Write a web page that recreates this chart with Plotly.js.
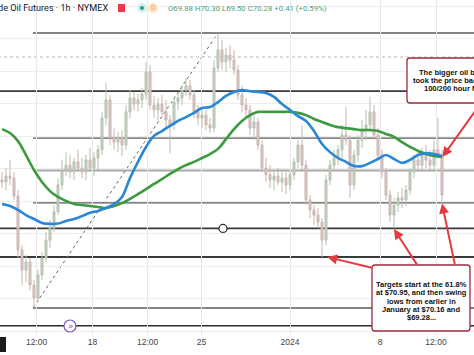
<!DOCTYPE html>
<html><head><meta charset="utf-8">
<script src="https://cdn.plot.ly/plotly-3.0.1.min.js"></script>
<style>html,body{margin:0;padding:0;background:#fff;overflow:hidden}#chart{width:474px;height:355px}</style>
</head><body><div id="chart"></div>
<script>
// ---- data (hourly bars, grouped 4 px per candle) ----
const barIndex = [0,1,2,3,4,5,6,7,8,9,10,11,12,13,14,15,16,17,18,19,20,21,22,23,24,25,26,27,28,29,30,31,32,33,34,35,36,37,38,39,40,41,42,43,44,45,46,47,48,49,50,51,52,53,54,55,56,57,58,59,60,61,62,63,64,65,66,67,68,69,70,71,72,73,74,75,76,77,78,79,80,81,82,83,84,85,86,87,88,89,90,91,92,93,94,95,96,97,98,99,100,101,102,103,104,105,106,107,108,109,110];
const opens = [71.65,71.59,71.77,71.71,71.16,69.50,68.88,69.13,68.42,68.02,
68.73,69.25,69.80,70.17,70.67,71.50,71.96,72.11,71.90,72.21,
72.02,71.90,72.27,72.02,72.33,72.58,73.56,74.12,72.95,72.82,
72.95,72.73,73.75,74.18,73.99,74.12,74.30,74.98,73.96,73.81,
73.99,73.75,73.50,73.35,74.05,74.18,74.42,74.55,74.27,73.75,
73.56,73.65,73.35,73.25,75.10,75.66,75.29,75.50,75.35,75.04,
74.27,73.96,73.81,73.25,73.44,72.73,72.02,71.81,71.65,71.77,
71.59,71.71,71.50,71.81,72.21,72.73,72.11,71.04,70.73,70.57,
70.36,69.80,71.65,72.11,72.33,72.58,73.04,72.88,71.50,72.42,
72.88,73.19,73.35,73.75,73.04,72.42,71.90,71.19,70.57,70.88,
71.10,71.04,71.34,71.90,72.27,72.11,72.42,72.27,72.11,72.58,
72.42];
const highs = [71.90,72.02,72.27,71.90,71.34,69.65,69.34,69.25,68.57,68.88,
69.43,70.05,70.42,70.88,71.71,72.27,72.51,72.42,72.33,72.58,
72.33,72.42,72.64,72.51,72.73,73.75,74.64,74.27,73.25,73.13,
73.19,73.96,74.42,74.36,74.30,74.49,75.29,75.20,74.24,74.18,
74.27,74.12,73.65,74.18,74.36,74.58,74.79,74.73,74.42,73.96,
73.87,73.81,73.56,75.35,76.18,75.96,75.72,75.81,75.66,75.20,
74.58,74.18,73.96,73.65,73.56,72.88,72.33,72.11,71.96,72.02,
71.90,71.96,71.90,72.33,72.88,73.35,72.27,71.19,70.88,70.79,
70.48,71.81,72.27,72.58,72.73,73.35,73.90,73.04,72.58,73.04,
73.50,73.81,74.21,73.96,73.25,72.58,72.02,71.34,71.10,71.28,
71.41,71.50,72.02,72.42,72.58,72.64,72.73,72.58,72.88,73.56,
72.58];
const lows = [71.41,71.34,71.50,71.04,69.25,68.42,68.51,68.26,67.71,67.90,
68.57,69.13,69.56,70.05,70.57,71.34,71.77,71.71,71.65,71.96,
71.71,71.65,71.90,71.77,71.96,72.42,73.35,72.73,72.58,72.51,
72.39,72.58,73.56,73.81,73.75,73.87,74.12,73.81,73.56,73.50,
73.65,73.25,72.48,73.19,73.81,73.96,74.24,74.12,73.56,73.35,
73.25,73.19,73.10,73.13,74.98,75.04,74.98,75.10,74.89,74.12,
73.75,73.56,73.04,72.88,72.58,71.90,71.59,71.41,71.34,71.50,
71.28,71.22,71.34,71.65,72.02,71.96,70.88,70.48,70.27,70.17,
69.28,69.65,71.50,71.96,72.11,72.33,72.73,71.10,71.34,72.21,
72.64,72.88,73.13,72.88,72.27,71.71,71.04,70.36,70.17,70.67,
70.79,70.85,71.19,71.71,71.90,71.96,72.02,71.90,71.90,72.33,
70.94];
const closes = [71.59,71.77,71.71,71.16,69.50,68.88,69.13,68.42,68.02,68.73,
69.25,69.80,70.17,70.67,71.50,71.96,72.11,71.90,72.21,72.02,
71.90,72.27,72.02,72.33,72.58,73.56,74.12,72.95,72.82,72.95,
72.73,73.75,74.18,73.99,74.12,74.30,74.98,73.96,73.81,73.99,
73.75,73.50,73.35,74.05,74.18,74.42,74.55,74.27,73.75,73.56,
73.65,73.35,73.25,75.10,75.66,75.29,75.50,75.35,75.04,74.27,
73.96,73.81,73.25,73.44,72.73,72.02,71.81,71.65,71.77,71.59,
71.71,71.50,71.81,72.21,72.73,72.11,71.04,70.73,70.57,70.36,
69.80,71.65,72.11,72.33,72.58,73.04,72.88,71.50,72.42,72.88,
73.19,73.35,73.75,73.04,72.42,71.90,71.19,70.57,70.88,71.10,
71.04,71.34,71.90,72.27,72.11,72.42,72.27,72.11,72.58,72.42,
71.19];
const maIndex = [0,2,4,6,8,10,12,14,16,18,20,22,24,26,28,30,32,34,36,38,40,42,44,46,48,50,52,54,56,58,60,62,64,66,68,70,72,74,76,78,80,82,84,86,88,90,92,94,96,98,100,102,104,106,108,110];
const ma100 = [70.91,70.85,70.73,70.57,70.45,70.33,70.30,70.31,70.39,70.45,70.54,70.64,70.70,70.79,70.91,71.13,71.71,72.21,72.67,73.01,73.16,73.32,73.47,73.59,73.72,73.87,73.90,74.05,74.24,74.36,74.42,74.39,74.36,74.33,74.21,73.99,73.81,73.62,73.47,73.16,72.76,72.51,72.33,72.21,72.08,72.08,72.18,72.30,72.42,72.30,72.18,72.27,72.42,72.48,72.45,72.39];
const ma200 = [73.22,73.10,72.85,72.42,71.96,71.59,71.31,71.13,71.01,70.91,70.88,70.85,70.82,70.79,70.85,70.94,71.07,71.22,71.37,71.53,71.68,71.84,71.99,72.11,72.21,72.33,72.45,72.61,72.91,73.22,73.47,73.65,73.75,73.75,73.75,73.75,73.75,73.72,73.65,73.53,73.44,73.35,73.28,73.25,73.22,73.19,73.19,73.16,73.07,72.98,72.82,72.67,72.55,72.45,72.39,72.36];
const tickPos = [8.67, 22.6, 36.4, 49.9, 72, 94.5, 108.5];
const tickText = ["12:00","18","12:00","25","2024","8","12:00"];
// price levels drawn on the chart
const swingLowIdx = 8, swingLowPrice = 67.71;
const swingHighIdx = 54, swingHighPrice = 76.18;
const fibLevels = [67.71, 70.95, 72.94, 76.18];
const fibMid = 71.945;
const keyLevels = [74.39, 70.16, 69.28];
const baseLevel = 67.16;
const crossLevel = 75.44;

// ---- layout helpers (pixel -> paper) ----
const PW = 474, PH = 335;
const fx = v => v / PW, fy = v => 1 - v / PH;
function roundRect(x0, y0, x1, y1, r) {
  const rx = r / PW, ry = r / PH;
  const X0 = fx(x0), X1 = fx(x1), Y0 = fy(y0), Y1 = fy(y1);
  return `M${X0 + rx},${Y0} L${X1 - rx},${Y0} Q${X1},${Y0} ${X1},${Y0 - ry} L${X1},${Y1 + ry} Q${X1},${Y1} ${X1 - rx},${Y1} L${X0 + rx},${Y1} Q${X0},${Y1} ${X0},${Y1 + ry} L${X0},${Y0 - ry} Q${X0},${Y0} ${X0 + rx},${Y0} Z`;
}

const traces = [
  {type: 'candlestick', x: barIndex, open: opens, high: highs, low: lows, close: closes,
   increasing: {line: {color: '#b3c0ae', width: 1}, fillcolor: '#c9d3c5'},
   decreasing: {line: {color: '#cbb3b0', width: 1}, fillcolor: '#dccbc8'},
   whiskerwidth: 0, hoverinfo: 'skip', showlegend: false},
  {type: 'scatter', mode: 'lines', x: maIndex, y: ma200, line: {color: '#3c9a3f', width: 2.6, shape: 'spline'}, hoverinfo: 'skip', showlegend: false},
  {type: 'scatter', mode: 'lines', x: maIndex, y: ma100, line: {color: '#2a86d8', width: 2.6, shape: 'spline'}, hoverinfo: 'skip', showlegend: false}
];

const shapes = [];
const xEnd = 125;
// dashed crosshair level
shapes.push({type: 'line', xref: 'x', yref: 'y', x0: -1, x1: xEnd, y0: crossLevel, y1: crossLevel, line: {color: '#b8b8b8', width: 1, dash: 'dot'}, layer: 'below'});
// fib retracement lines from swing low to the right
fibLevels.forEach(v => shapes.push({type: 'line', xref: 'x', yref: 'y', x0: swingLowIdx - 0.25, x1: xEnd, y0: v, y1: v, line: {color: '#5a5a5a', width: 1.3}, layer: 'below'}));
shapes.push({type: 'line', xref: 'x', yref: 'y', x0: swingLowIdx - 0.25, x1: xEnd, y0: fibMid, y1: fibMid, line: {color: '#a8a8a8', width: 1.8}, layer: 'below'});
// key full-width levels
keyLevels.forEach(v => shapes.push({type: 'line', xref: 'x', yref: 'y', x0: -1, x1: xEnd, y0: v, y1: v, line: {color: '#3a3a3a', width: 1.8}, layer: 'below'}));
shapes.push({type: 'line', xref: 'x', yref: 'y', x0: -1, x1: xEnd, y0: baseLevel, y1: baseLevel, line: {color: '#2a2a2a', width: 1.5}, layer: 'below'});
// dotted trend line of the fib tool
shapes.push({type: 'line', xref: 'x', yref: 'y', x0: swingLowIdx - 0.25, y0: swingLowPrice, x1: swingHighIdx, y1: swingHighPrice, line: {color: '#666', width: 1, dash: 'dot'}, layer: 'below'});
// handle on the 70.16 line
shapes.push({type: 'circle', xref: 'x', yref: 'y', xsizemode: 'pixel', ysizemode: 'pixel', xanchor: 55.25, yanchor: keyLevels[1], x0: -4, x1: 4, y0: -4, y1: 4, fillcolor: '#fff', line: {color: '#333', width: 1.3}});
// callout boxes
shapes.push({type: 'path', xref: 'paper', yref: 'paper', path: roundRect(407, 58, 500, 103, 3), fillcolor: '#fff', line: {color: '#9a2c3c', width: 1.3}});
shapes.push({type: 'path', xref: 'paper', yref: 'paper', path: roundRect(372, 265, 470, 331, 3), fillcolor: '#fff', line: {color: '#9a2c3c', width: 1.3}});
// header icons
shapes.push({type: 'rect', xref: 'paper', yref: 'paper', x0: fx(118), x1: fx(125), y0: fy(12), y1: fy(4), fillcolor: '#f23645', line: {width: 0}});
shapes.push({type: 'circle', xref: 'paper', yref: 'paper', x0: fx(137), x1: fx(147), y0: fy(13), y1: fy(3), fillcolor: '#d4efed', line: {width: 0}});
shapes.push({type: 'circle', xref: 'paper', yref: 'paper', x0: fx(140), x1: fx(144), y0: fy(10), y1: fy(6), fillcolor: '#1f9e8a', line: {width: 0}});
shapes.push({type: 'circle', xref: 'paper', yref: 'paper', x0: fx(148), x1: fx(158), y0: fy(13), y1: fy(3), fillcolor: '#fde5c6', line: {width: 0}});
// purple jump icon and bottom-left marker
shapes.push({type: 'circle', xref: 'paper', yref: 'paper', x0: fx(64), x1: fx(76), y0: fy(332), y1: fy(320), fillcolor: '#fff', line: {color: '#7e57c2', width: 1.2}});
shapes.push({type: 'rect', xref: 'paper', yref: 'paper', x0: fx(-2), x1: fx(6), y0: fy(352), y1: fy(337), fillcolor: '#1b1b1b', line: {width: 0}});

const boxFont = {family: 'Liberation Sans, Arial, sans-serif', size: 7.5, color: '#111', weight: 'bold'};
function txt(text, x, y, anchor, font) {
  return {xref: 'paper', yref: 'paper', x: fx(x), y: fy(y), xanchor: anchor, yanchor: 'middle', text: text, showarrow: false, font: font};
}
const annotations = [
  txt('Crude Oil Futures · 1h · NYMEX', 110, 8, 'right', {family: 'Roboto, sans-serif', size: 9.1, color: '#131722'}),
  txt('O69.88 H70.30 L69.50 C70.28 +0.41 (+0.59%)', 166, 8, 'left', {family: 'Roboto, sans-serif', size: 7.8, color: '#4ca07a'}),
  txt('D', 153, 8, 'center', {family: 'Roboto, sans-serif', size: 7, color: '#f0a040'}),
  txt('»', 70.5, 325.5, 'center', {family: 'DejaVu Sans, sans-serif', size: 9, color: '#7e57c2'}),
  txt('The bigger oil bounce', 417, 72, 'left', boxFont),
  txt('took the price back to', 411, 80.5, 'left', boxFont),
  txt('100/200 hour MAs', 422, 89, 'left', boxFont),
  txt('Targets start at the 61.8%', 421, 284, 'center', boxFont),
  txt('at $70.95, and then swing', 421, 292.5, 'center', boxFont),
  txt('lows from earlier in', 421, 301, 'center', boxFont),
  txt('January at $70.16 and', 421, 309, 'center', boxFont),
  txt('$69.28...', 421, 317.5, 'center', boxFont)
];
function arrow(hx, hy, tx, ty) {
  return {xref: 'x', yref: 'y', axref: 'x', ayref: 'y', x: hx, y: hy, ax: tx, ay: ty, text: '', showarrow: true,
    arrowhead: 2, arrowsize: 1, arrowwidth: 2, arrowcolor: '#e23b40', standoff: 0, startstandoff: 0};
}
annotations.push(arrow(110.1, 72.36, 119.5, 73.98));
annotations.push(arrow(81.3, 69.28, 92.8, 68.94));
annotations.push(arrow(98.0, 70.14, 104.0, 69.00));
annotations.push(arrow(110.0, 70.93, 113.3, 69.00));

const layout = {
  width: 474, height: 355,
  margin: {l: 0, r: 0, t: 0, b: 20, pad: 0},
  paper_bgcolor: '#fff', plot_bgcolor: '#fff',
  showlegend: false,
  xaxis: {range: [-0.5, 118], tickmode: 'array', tickvals: tickPos, ticktext: tickText,
    showgrid: true, gridcolor: '#e9e9e9', gridwidth: 1, zeroline: false, showline: false, ticks: '',
    tickfont: {family: 'Liberation Sans, Arial, sans-serif', size: 8.5, color: '#444'},
    rangeslider: {visible: false}, fixedrange: true},
  yaxis: {range: [66.878, 77.196], tick0: 0, dtick: 1, showgrid: true, gridcolor: '#eeeeee', gridwidth: 1,
    showticklabels: false, zeroline: false, showline: false, ticks: '', fixedrange: true},
  shapes: shapes,
  annotations: annotations
};
Plotly.newPlot('chart', traces, layout, {staticPlot: true, displayModeBar: false});
</script></body></html>
